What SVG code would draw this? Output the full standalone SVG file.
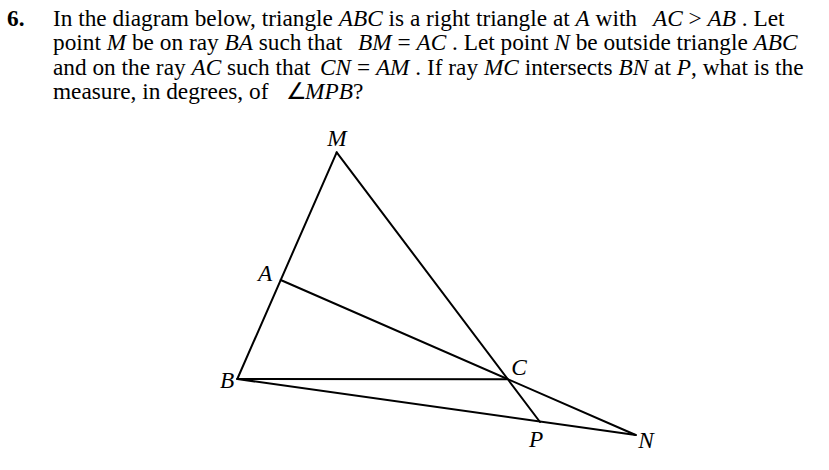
<svg xmlns="http://www.w3.org/2000/svg" width="829" height="470" viewBox="0 0 829 470">
<style>
text{font-family:"Liberation Serif","Times New Roman",serif;font-size:23.3px;fill:#000}
.i{font-style:italic}
.b{font-weight:bold}
.lbl{font-style:italic;text-anchor:middle}
line{stroke:#000;stroke-width:2;stroke-linecap:round}
</style>
<rect width="829" height="470" fill="#fff"/>
<g id="question">
<text x="7" y="25.5"><tspan class="b">6.</tspan><tspan x="53">In the diagram below, triangle </tspan><tspan class="i">ABC</tspan><tspan> is a right triangle at </tspan><tspan class="i">A</tspan><tspan> with </tspan><tspan x="653" class="i">AC</tspan><tspan> &gt; </tspan><tspan class="i">AB</tspan><tspan> . Let</tspan></text>
<text x="53" y="50"><tspan>point </tspan><tspan class="i">M</tspan><tspan> be on ray </tspan><tspan class="i">BA</tspan><tspan> such that </tspan><tspan x="358" class="i">BM</tspan><tspan> = </tspan><tspan class="i">AC</tspan><tspan> . Let point </tspan><tspan class="i">N</tspan><tspan> be outside triangle </tspan><tspan class="i">ABC</tspan></text>
<text x="53" y="74.5"><tspan>and on the ray </tspan><tspan class="i">AC</tspan><tspan> such that </tspan><tspan x="320" class="i">CN</tspan><tspan> = </tspan><tspan class="i">AM</tspan><tspan> . If ray </tspan><tspan class="i">MC</tspan><tspan> intersects </tspan><tspan class="i">BN</tspan><tspan> at </tspan><tspan class="i">P</tspan><tspan>, what is the</tspan></text>
<text x="53" y="99"><tspan>measure, in degrees, of </tspan><tspan x="286">∠</tspan><tspan x="305" class="i">MPB</tspan><tspan>?</tspan></text>
</g>
<g id="connectors">
<line x1="336.7" y1="152.3" x2="237.3" y2="379"/>
<line x1="336.7" y1="152.3" x2="540" y2="422"/>
<line x1="280.7" y1="280" x2="635.7" y2="435"/>
<line x1="237.3" y1="379" x2="506.7" y2="379.3"/>
<line x1="237.3" y1="379" x2="635.7" y2="435"/>
</g>
<g id="node-M"><text class="lbl" x="337" y="146">M</text></g>
<g id="node-A"><text class="lbl" x="265" y="281">A</text></g>
<g id="node-B"><text class="lbl" x="227" y="388">B</text></g>
<g id="node-C"><text class="lbl" x="519" y="375">C</text></g>
<g id="node-P"><text class="lbl" x="536" y="447">P</text></g>
<g id="node-N"><text class="lbl" x="646" y="448">N</text></g>
</svg>
